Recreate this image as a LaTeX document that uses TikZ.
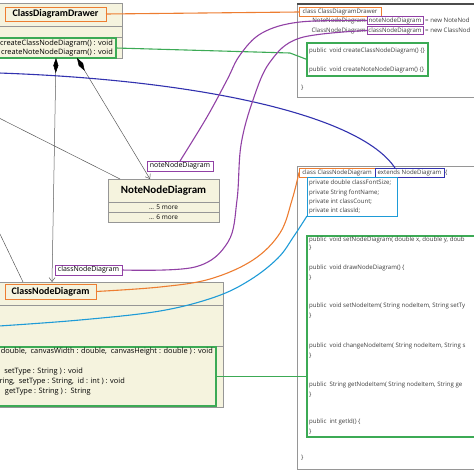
\documentclass[tikz,border=0pt]{standalone}
\usepackage{fontspec}
\setmainfont{Open Sans}
\newfontfamily\titlefont{Carlito}
\usetikzlibrary{arrows.meta,calc}
\definecolor{umlbg}{RGB}{245,243,222}
\definecolor{umlgray}{RGB}{150,150,150}
\definecolor{umlline}{RGB}{90,90,90}
\definecolor{umlorange}{RGB}{237,125,49}
\definecolor{umlgreen}{RGB}{60,170,85}
\definecolor{umlpurple}{RGB}{145,65,165}
\definecolor{umlblue}{RGB}{50,50,175}
\definecolor{umlcyan}{RGB}{30,155,215}
\definecolor{codegray}{RGB}{60,60,60}
\begin{document}
\begin{tikzpicture}[x=1pt,y=-1pt,
  classbox/.style={draw=umlgray, fill=umlbg, line width=0.6pt, inner sep=0pt, outer sep=0pt, anchor=north west},
  panel/.style={draw=umlgray, fill=white, line width=0.6pt, inner sep=0pt, outer sep=0pt, anchor=north west},
  hl/.style={draw=#1, line width=0.9pt, inner sep=0pt, outer sep=0pt, anchor=north west},
  titletext/.style={font=\titlefont\bfseries\fontsize{10}{12}\selectfont},
  optext/.style={font=\fontsize{7.4}{8}\selectfont, inner sep=0pt, anchor=east},
  moretext/.style={font=\fontsize{6.5}{8}\selectfont, inner sep=0pt},
  lbltext/.style={font=\fontsize{7}{8}\selectfont},
  codetext/.style={font=\fontsize{6.1}{7}\selectfont, text=codegray, inner sep=0pt, anchor=west},
  codebox/.style={font=\fontsize{6.1}{7}\selectfont, text=codegray},
  assoc/.style={draw=umlline, line width=0.5pt},
  link/.style={line width=1.1pt}
]
\useasboundingbox (0,0) rectangle (474,474);
\clip (0,0) rectangle (474,474);

% ---------- UML class ClassDiagramDrawer ----------
\node[classbox, minimum width=124pt, minimum height=55pt] (cdd) at (-2,3) {};
\draw[umlgray] ($(cdd.north west)+(0,23)$) -- ($(cdd.north east)+(0,23)$);
\draw[umlgray] ($(cdd.north west)+(0,34)$) -- ($(cdd.north east)+(0,34)$);
\node[hl=umlorange, minimum width=101pt, minimum height=14pt, titletext] (cddT) at (5,7) {ClassDiagramDrawer};
\node[hl=umlgreen, line width=1.5pt, minimum width=118pt, minimum height=20pt] (cddOps) at (-2,38) {};
\node[optext] (cddOp1) at (113,43.5) {createClassNodeDiagram() : void};
\node[optext] (cddOp2) at (113,53) {createNoteNodeDiagram() : void};

% ---------- UML class NoteNodeDiagram ----------
\node[classbox, minimum width=111pt, minimum height=43pt] (nnd) at (108,179) {};
\draw[umlgray] ($(nnd.north west)+(0,23)$) -- ($(nnd.north east)+(0,23)$);
\draw[umlgray] ($(nnd.north west)+(0,33)$) -- ($(nnd.north east)+(0,33)$);
\node[titletext, font=\titlefont\bfseries\fontsize{11}{12}\selectfont] (nndT) at (163.5,190.5) {NoteNodeDiagram};
\node[moretext] (nndM1) at (163.5,207) {... 5 more};
\node[moretext] (nndM2) at (163.5,217) {... 6 more};

% ---------- labels ----------
\node[hl=umlpurple, line width=0.8pt, minimum width=66pt, minimum height=10pt, lbltext] (lblN) at (147,161) {noteNodeDiagram};
\node[hl=umlpurple, line width=0.8pt, minimum width=67pt, minimum height=10pt, lbltext] (lblC) at (55,265) {classNodeDiagram};

% ---------- UML class ClassNodeDiagram ----------
\node[classbox, minimum width=225pt, minimum height=125pt] (cnd) at (-2,282) {};
\draw[umlgray] ($(cnd.north west)+(0,23)$) -- ($(cnd.north east)+(0,23)$);
\draw[umlgray] ($(cnd.north west)+(0,64)$) -- ($(cnd.north east)+(0,64)$);
\node[hl=umlorange, minimum width=91pt, minimum height=15pt, titletext] (cndT) at (5,284) {ClassNodeDiagram};
\node[hl=umlgreen, line width=1.5pt, minimum width=218pt, minimum height=59pt] (cndOps) at (-2,347) {};
\node[optext] (cndOp1) at (213,351.5) {double,\ \ canvasWidth : double,\ \ canvasHeight : double ) : void};
\node[optext] (cndOp2) at (83,372) {setType : String ) : void};
\node[optext] (cndOp3) at (125,382) {ring,\ \ setType : String,\ \ id : int ) : void};
\node[optext] (cndOp4) at (91,392) {getType : String ) :\ \ String};

% ---------- code panel 1 ----------
\node[panel, minimum width=190pt, minimum height=93pt] (p1) at (297,4) {};
\draw[line width=1.6pt, black!70] (p1.north west) -- (p1.north east);
\node[hl=umlorange, minimum width=82pt, minimum height=9pt, codebox] (p1o) at (299,7.5) {class ClassDiagramDrawer};
\node[codetext, anchor=east] (p1l2a) at (366,20.5) {NoteNodeDiagram};
\node[hl=umlpurple, minimum width=56pt, minimum height=8pt, codebox] (p1n) at (367,16.5) {noteNodeDiagram};
\node[codetext] (p1l2b) at (425,20.5) {= new NoteNod};
\node[codetext, anchor=east] (p1l3a) at (366,30.5) {ClassNodeDiagram};
\node[hl=umlpurple, minimum width=56pt, minimum height=8pt, codebox] (p1c) at (367,26.5) {classNodeDiagram};
\node[codetext] (p1l3b) at (425,30.5) {= new ClassNod};
\node[hl=umlgreen, line width=1.4pt, minimum width=121pt, minimum height=33pt] (p1g) at (307,43) {};
\node[codetext] (p1m1) at (309,51) {public\ \ void createClassNodeDiagram() \{\}};
\node[codetext] (p1m2) at (309,70) {public\ \ void createNoteNodeDiagram() \{\}};
\node[codetext] (p1end) at (301,88) {\}};

% ---------- code panel 2 ----------
\node[panel, minimum width=190pt, minimum height=303pt] (p2) at (297,166) {};
\node[hl=umlorange, minimum width=76pt, minimum height=9pt, codebox] (p2o) at (299,168) {class ClassNodeDiagram};
\node[hl=umlblue, minimum width=69pt, minimum height=9pt, codebox] (p2e) at (375,168) {extends NodeDiagram};
\node[codetext] (p2br) at (445,172.5) {\{};
\node[hl=umlcyan, minimum width=90pt, minimum height=39pt] (fields) at (307,177) {};
\node[codetext] (f1t) at (309,183) {private double classFontSize;};
\node[codetext] (f2t) at (309,193) {private String fontName;};
\node[codetext] (f3t) at (309,202) {private int classCount;};
\node[codetext] (f4t) at (309,211) {private int classId;};
\node[hl=umlgreen, line width=1.4pt, minimum width=180pt, minimum height=201pt] (p2g) at (307,236) {};
\node[codetext] (m1) at (309,240) {public\ \ void setNodeDiagram( double x, double y, doub};
\node[codetext] (m1e) at (309,247.5) {\}};
\node[codetext] (m2) at (309,268) {public\ \ void drawNodeDiagram() \{};
\node[codetext] (m2e) at (309,278) {\}};
\node[codetext] (m3) at (309,305.5) {public\ \ void setNodeItem( String nodeItem, String setTy};
\node[codetext] (m3e) at (309,316) {\}};
\node[codetext] (m4) at (309,346) {public\ \ void changeNodeItem( String nodeItem, String s};
\node[codetext] (m4e) at (309,356) {\}};
\node[codetext] (m5) at (309,385) {public\ \ String getNodeItem( String nodeItem, String ge};
\node[codetext] (m5e) at (309,395) {\}};
\node[codetext] (m6) at (309,422) {public\ \ int getId() \{};
\node[codetext] (m6e) at (309,432) {\}};
\node[codetext] (p2end) at (301,458) {\}};

% ---------- UML associations ----------
\draw[assoc, {Diamond[length=15pt,width=5pt,color=black]}-{Straight Barb[length=4pt,width=6pt]}]
  ($(cdd.south west)+(58,0)$) -- ($(cnd.north west)+(54,0)$);
\draw[assoc, {Diamond[length=15pt,width=5pt,color=black]}-{Straight Barb[length=4pt,width=6pt]}]
  ($(cdd.south west)+(79,0)$) -- ($(nnd.north west)+(42,0)$);
\coordinate (free1) at (-1,118);
\coordinate (free2) at (-1,232);
\draw[assoc] (free1) -- ($(nnd.north west)+(12,0)$);
\draw[assoc] (free2) -- ($(cnd.north west)+(25,0)$);

% ---------- highlight connectors ----------
\draw[link, umlorange] (cddT.east) -- (p1o.west);
\draw[link, umlgreen] (cddOps.east) -- (290,53) -- (p1g.west);
\coordinate (freeB) at (-1,73);
\draw[link, umlblue] (freeB) .. controls (200,80) and (360,115) .. ($(p2e.north west)+(20,0)$);
\draw[link, umlpurple] plot[smooth, tension=0.6] coordinates {(lblN.north) (207,117) (227,80) (240,55) (262,33) (300,22) (p1n.west)};
\draw[link, umlpurple] plot[smooth, tension=0.6] coordinates {(lblC.east) (195,267) (228,242) (237,200) (241,145) (253,100) (270,62) (300,38) (p1c.west)};
\draw[link, umlorange] plot[smooth, tension=0.6] coordinates {(cndT.east) (160,287) (210,279) (253,260) (280,233) (292,200) (p2o.west)};
\coordinate (freeC) at (-1,326);
\draw[link, umlcyan] plot[smooth, tension=0.6] coordinates {(freeC) (80,320) (160,311) (215,297) (250,280) (278,258) (294,236) (fields.south west)};
\draw[link, umlgreen] (cndOps.east) -- (cndOps.east -| p2g.west);
\end{tikzpicture}
\end{document}
